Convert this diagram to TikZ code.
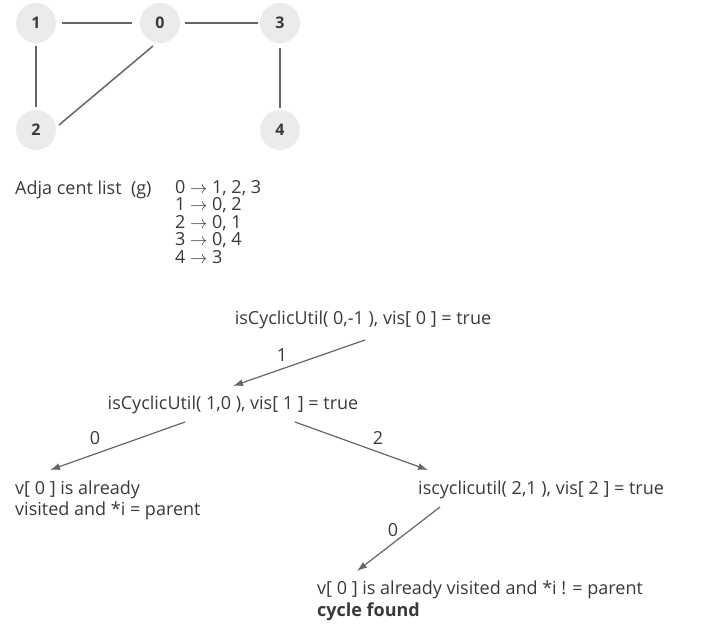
\documentclass[tikz,border=0pt]{standalone}
\usepackage{fontspec}
\setmainfont{Open Sans}
\usetikzlibrary{arrows.meta}
\definecolor{tx}{HTML}{3a3a3a}
\definecolor{ln}{HTML}{666666}
\begin{document}
\begin{tikzpicture}[x=1pt,y=-1pt,
  v/.style={circle,fill=black!8,minimum size=40pt,inner sep=0pt,font=\fontsize{16}{18}\selectfont\bfseries,text=tx},
  e/.style={draw=ln,line width=1.5pt},
  a/.style={draw=ln,line width=1.2pt,-{Latex[length=10pt,width=7pt]}},
  t/.style={font=\fontsize{18}{21}\selectfont,text=tx,inner sep=0pt},
  lb/.style={font=\fontsize{18}{21}\selectfont,text=tx,inner sep=0pt}]
\path[use as bounding box,fill=white] (0,0) rectangle (723,644);
\node[v] (n1) at (36,23) {1};
\node[v] (n0) at (160,23) {0};
\node[v] (n3) at (280,23) {3};
\node[v] (n2) at (36,130) {2};
\node[v] (n4) at (280,130) {4};
\coordinate (p10a) at (62,23); \coordinate (p10b) at (132,23);
\coordinate (p03a) at (185,23); \coordinate (p03b) at (258,23);
\coordinate (p12a) at (36,46); \coordinate (p12b) at (36,107);
\coordinate (p02a) at (153,46); \coordinate (p02b) at (59,125);
\coordinate (p34a) at (280,48); \coordinate (p34b) at (280,108);
\draw[e] (p10a)--(p10b); \draw[e] (p03a)--(p03b); \draw[e] (p12a)--(p12b);
\draw[e] (p02a)--(p02b); \draw[e] (p34a)--(p34b);
\node[t,anchor=west] (adj) at (15,190) {Adja cent list~~(g)};
\node[t,anchor=north west,align=left,font=\fontsize{18}{17.5}\selectfont] (list) at (175,180)
 {0 $\rightarrow$ 1, 2, 3\\1 $\rightarrow$ 0, 2\\2 $\rightarrow$ 0, 1\\3 $\rightarrow$ 0, 4\\4 $\rightarrow$ 3};
\node[t] (r) at (363,320) {isCyclicUtil( 0,-1 ), vis[ 0 ] = true};
\node[t] (c1) at (233,405) {isCyclicUtil( 1,0 ), vis[ 1 ] = true};
\node[t,anchor=north west,align=left,font=\fontsize{18}{21}\selectfont] (l0) at (15,481) {v[ 0 ] is already\\visited and *i = parent};
\node[t,anchor=west] (c2) at (418,490) {iscyclicutil( 2,1 ), vis[ 2 ] = true};
\node[t,anchor=north west,align=left,font=\fontsize{18}{22}\selectfont] (l1) at (317,581) {v[ 0 ] is already visited and *i ! = parent\\\textbf{cycle found}};
\coordinate (a1s) at (365,340); \coordinate (a1e) at (233,386);
\coordinate (a2s) at (185,422); \coordinate (a2e) at (50,470);
\coordinate (a3s) at (295,422); \coordinate (a3e) at (428,470);
\coordinate (a4s) at (440,507); \coordinate (a4e) at (357,571);
\draw[a] (a1s)--(a1e); \draw[a] (a2s)--(a2e); \draw[a] (a3s)--(a3e); \draw[a] (a4s)--(a4e);
\node[lb] (L1) at (282,355) {1};
\node[lb] (L2) at (95,438) {0};
\node[lb] (L3) at (378,438) {2};
\node[lb] (L4) at (393,530) {0};
\end{tikzpicture}
\end{document}
